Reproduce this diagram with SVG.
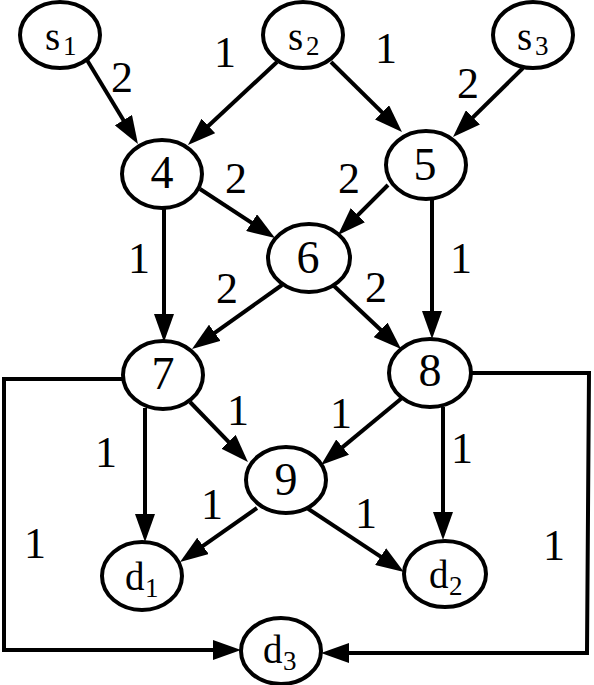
<svg xmlns="http://www.w3.org/2000/svg" width="594" height="685" viewBox="0 0 594 685">
<style>
.n ellipse{fill:#fff;stroke:#000;stroke-width:4}
.e line,.e polyline{fill:none;stroke:#000;stroke-width:4;marker-end:url(#a)}
text{font-family:'Liberation Serif',serif;fill:#000}
.d{font-size:46px;text-anchor:middle}
.l{font-size:39px}
.s{font-size:27px}
.w{font-size:44px;text-anchor:middle}
</style>
<defs>
<marker id="a" markerUnits="userSpaceOnUse" markerWidth="28" markerHeight="20" refX="20" refY="10" orient="auto">
<path d="M0,0 L28,10 L0,20 z" fill="#000"/>
</marker>
</defs>
<rect width="594" height="685" fill="#fff"/>
<g id="connectors" class="e">
<line x1="87" y1="60" x2="133.8" y2="137.2"/>
<line x1="277" y1="62" x2="193.8" y2="139.5"/>
<line x1="331" y1="62" x2="396.3" y2="126.4"/>
<line x1="523" y1="68" x2="458.7" y2="131.4"/>
<line x1="200" y1="189" x2="268.3" y2="233.6"/>
<line x1="388" y1="185" x2="343.7" y2="229.3"/>
<line x1="164" y1="207" x2="164" y2="334"/>
<line x1="432" y1="199" x2="432" y2="331"/>
<line x1="282" y1="285" x2="198.5" y2="344.4"/>
<line x1="333" y1="285" x2="395.2" y2="343.5"/>
<line x1="190" y1="402" x2="242.4" y2="456.2"/>
<line x1="145" y1="408" x2="145" y2="534"/>
<line x1="257" y1="508" x2="186.6" y2="557.4"/>
<line x1="402" y1="398" x2="327.2" y2="459.9"/>
<line x1="443" y1="407" x2="443" y2="532"/>
<line x1="307" y1="508" x2="397.3" y2="567.6"/>
<polyline points="123,379 4,379 4,650 233,650"/>
<polyline points="471,373 589,373 587,653 329,653"/>
</g>
<g id="edge-labels">
<text class="w" x="122" y="92">2</text>
<text class="w" x="225" y="67">1</text>
<text class="w" x="386" y="63">1</text>
<text class="w" x="468" y="98">2</text>
<text class="w" x="236" y="193">2</text>
<text class="w" x="349" y="193">2</text>
<text class="w" x="139" y="273">1</text>
<text class="w" x="461" y="273">1</text>
<text class="w" x="227" y="303">2</text>
<text class="w" x="376" y="302">2</text>
<text class="w" x="238" y="425">1</text>
<text class="w" x="341" y="428">1</text>
<text class="w" x="106" y="467">1</text>
<text class="w" x="462" y="463">1</text>
<text class="w" x="212" y="519">1</text>
<text class="w" x="366" y="528">1</text>
<text class="w" x="35" y="558">1</text>
<text class="w" x="554" y="560">1</text>
</g>
<g id="nodes">
<g id="s1" class="n"><ellipse cx="60" cy="35" rx="40" ry="33"/><text class="l" x="45" y="50">s</text><text class="s" x="63" y="55">1</text></g>
<g id="s2" class="n"><ellipse cx="303" cy="35" rx="40" ry="33"/><text class="l" x="288" y="50">s</text><text class="s" x="306" y="55">2</text></g>
<g id="s3" class="n"><ellipse cx="533" cy="35" rx="40" ry="33"/><text class="l" x="517" y="50">s</text><text class="s" x="535" y="55">3</text></g>
<g id="n4" class="n"><ellipse cx="162" cy="174" rx="40" ry="34"/><text class="d" x="162" y="188">4</text></g>
<g id="n5" class="n"><ellipse cx="426" cy="165" rx="40" ry="34"/><text class="d" x="425" y="180">5</text></g>
<g id="n6" class="n"><ellipse cx="309" cy="258" rx="41" ry="34"/><text class="d" x="308" y="273">6</text></g>
<g id="n7" class="n"><ellipse cx="163" cy="375" rx="40" ry="34"/><text class="d" x="163" y="389">7</text></g>
<g id="n8" class="n"><ellipse cx="430" cy="373" rx="41" ry="34"/><text class="d" x="430" y="386">8</text></g>
<g id="n9" class="n"><ellipse cx="286" cy="480" rx="40" ry="33"/><text class="d" x="286" y="495">9</text></g>
<g id="d1" class="n"><ellipse cx="142" cy="576" rx="40" ry="34"/><text class="l" x="125" y="590">d</text><text class="s" x="145" y="597">1</text></g>
<g id="d2" class="n"><ellipse cx="445" cy="574" rx="41" ry="33"/><text class="l" x="429" y="588">d</text><text class="s" x="449" y="595">2</text></g>
<g id="d3" class="n"><ellipse cx="281" cy="651" rx="40" ry="33"/><text class="l" x="263" y="663">d</text><text class="s" x="283" y="670">3</text></g>
</g>
</svg>
